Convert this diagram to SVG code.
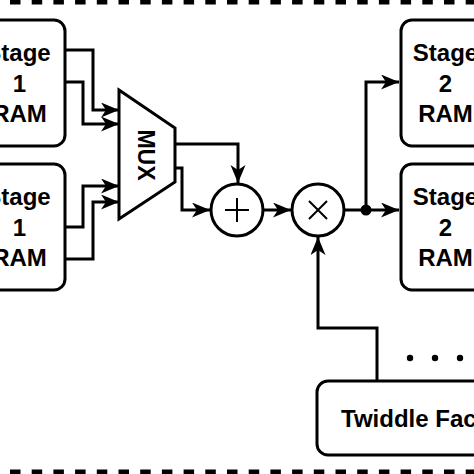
<svg xmlns="http://www.w3.org/2000/svg" width="474" height="474" viewBox="0 0 474 474">
<style>
.box{fill:#fff;stroke:#000;stroke-width:3}
.lbl{font-family:"Liberation Sans",Arial,sans-serif;font-size:24px;font-weight:bold;fill:#000;text-anchor:middle}
.wire{fill:none;stroke:#000;stroke-width:3}
.op{fill:#fff;stroke:#000;stroke-width:3}
.sym{fill:none;stroke:#000;stroke-width:2}
.dash{fill:none;stroke:#000;stroke-width:5;stroke-dasharray:10.5 11.2}
</style>
<defs>
<marker id="arr" markerUnits="userSpaceOnUse" markerWidth="19" markerHeight="16" refX="18" refY="7.5" orient="auto">
<path d="M0,0 L18,7.5 L0,15 L5,7.5 z" fill="#000"/>
</marker>
</defs>
<rect width="474" height="474" fill="#fff"/>
<path class="dash" d="M10,2 H474"/>
<path class="dash" d="M10,472 H474"/>
<g id="connectors">
<path class="wire" marker-end="url(#arr)" d="M65,50 H93 V110 H119"/>
<path class="wire" marker-end="url(#arr)" d="M65,82 H83 V124 H119"/>
<path class="wire" marker-end="url(#arr)" d="M65,227 H83 V186 H119"/>
<path class="wire" marker-end="url(#arr)" d="M65,259 H93 V202 H119"/>
<path class="wire" marker-end="url(#arr)" d="M175,144 H238 V183"/>
<path class="wire" marker-end="url(#arr)" d="M175,168 H182 V210 H210"/>
<path class="wire" marker-end="url(#arr)" d="M263,210 H291"/>
<path class="wire" marker-end="url(#arr)" d="M344,210 H399"/>
<path class="wire" marker-end="url(#arr)" d="M366,210 V82 H399"/>
<path class="wire" marker-end="url(#arr)" d="M377,381 V328 H318 V237"/>
<circle cx="366" cy="210" r="5.5" fill="#000"/>
</g>
<g id="stage1a">
<rect class="box" x="-26" y="20" width="91" height="126" rx="11"/>
<text class="lbl" x="18" y="60.5">Stage</text>
<text class="lbl" x="19.5" y="91.5">1</text>
<text class="lbl" x="19.5" y="122">RAM</text>
</g>
<g id="stage1b">
<rect class="box" x="-26" y="164" width="91" height="126" rx="11"/>
<text class="lbl" x="18" y="204.5">Stage</text>
<text class="lbl" x="19.5" y="235.5">1</text>
<text class="lbl" x="19.5" y="266">RAM</text>
</g>
<g id="mux">
<path class="op" d="M119,90 L175,128 L175,182 L119,219 Z"/>
<text transform="translate(146,155) rotate(90)" x="0" y="8" font-family="Liberation Sans,Arial,sans-serif" font-size="23" font-weight="bold" text-anchor="middle">MUX</text>
</g>
<g id="adder">
<circle class="op" cx="237" cy="210" r="26"/>
<path class="sym" d="M225,210 H249 M237,198 V222"/>
</g>
<g id="multiplier">
<circle class="op" cx="318" cy="210" r="26"/>
<path class="sym" d="M309,201 L327,219 M327,201 L309,219"/>
</g>
<g id="stage2a">
<rect class="box" x="401" y="20" width="90" height="126" rx="11"/>
<text class="lbl" x="445.5" y="60.5">Stage</text>
<text class="lbl" x="445.5" y="91.5">2</text>
<text class="lbl" x="445.5" y="122">RAM</text>
</g>
<g id="stage2b">
<rect class="box" x="401" y="164" width="90" height="126" rx="11"/>
<text class="lbl" x="445.5" y="204.5">Stage</text>
<text class="lbl" x="445.5" y="235.5">2</text>
<text class="lbl" x="445.5" y="266">RAM</text>
</g>
<g id="ellipsis">
<circle cx="410" cy="358" r="3.2" fill="#000"/>
<circle cx="435" cy="358" r="3.2" fill="#000"/>
<circle cx="460" cy="358" r="3.2" fill="#000"/>
</g>
<g id="twiddle">
<rect class="box" x="317" y="381" width="240" height="74" rx="11"/>
<text class="lbl" x="341" y="426.5" style="text-anchor:start">Twiddle Factors</text>
</g>
</svg>
